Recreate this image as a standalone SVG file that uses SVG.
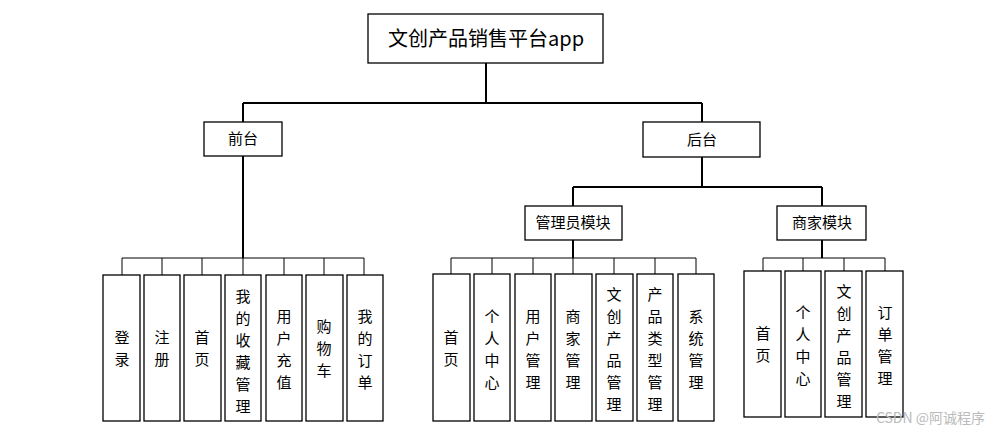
<svg xmlns="http://www.w3.org/2000/svg" width="1000" height="437" viewBox="0 0 1000 437">
<style>
.b{fill:#fff;stroke:#000;stroke-width:1.3}
.t{font-family:"Noto Sans CJK SC","Liberation Serif",serif;font-size:15px;fill:#000;text-anchor:middle}
.c{stroke:#000;fill:none}
</style>
<rect width="1000" height="437" fill="#fff"/>
<g id="connectors">
<path class="c" stroke-width="2" d="M486 63V103M243 103H702M243 103V122M702 103V122M243 156V258M702 157V187M573 187H822M573 187V206M822 187V206M573 240V258M822 240V258"/>
<path class="c" stroke-width="1" d="M122 258H364M122 258V275M162 258V275M202 258V275M243 258V275M284 258V275M324 258V275M364 258V275
M451 258H696M451 258V274M492 258V274M533 258V274M573 258V274M614 258V274M655 258V274M696 258V274
M763 258H885M763 258V271M803 258V271M844 258V271M885 258V271"/>
</g>
<g id="root"><rect class="b" x="368" y="14" width="235" height="49"/><text class="t" x="486" y="46" style="font-size:20px">文创产品销售平台app</text></g>
<g id="qiantai"><rect class="b" x="204" y="122" width="78" height="34"/><text class="t" x="243" y="144">前台</text></g>
<g id="houtai"><rect class="b" x="643" y="122" width="117" height="35"/><text class="t" x="702" y="145">后台</text></g>
<g id="admin"><rect class="b" x="525" y="206" width="97" height="34"/><text class="t" x="573" y="228">管理员模块</text></g>
<g id="shop"><rect class="b" x="777" y="206" width="89" height="34"/><text class="t" x="822" y="228">商家模块</text></g>
<g id="n1"><rect class="b" x="103" y="275" width="37" height="146"/><text class="t" x="122" y="343">登</text><text class="t" x="122" y="365">录</text></g>
<g id="n2"><rect class="b" x="144" y="275" width="36" height="146"/><text class="t" x="162" y="343">注</text><text class="t" x="162" y="365">册</text></g>
<g id="n3"><rect class="b" x="184" y="275" width="37" height="146"/><text class="t" x="202" y="343">首</text><text class="t" x="202" y="365">页</text></g>
<g id="n4"><rect class="b" x="225" y="275" width="36" height="146"/><text class="t" x="243" y="302">我</text><text class="t" x="243" y="324">的</text><text class="t" x="243" y="346">收</text><text class="t" x="243" y="368">藏</text><text class="t" x="243" y="390">管</text><text class="t" x="243" y="412">理</text></g>
<g id="n5"><rect class="b" x="266" y="275" width="36" height="146"/><text class="t" x="284" y="322">用</text><text class="t" x="284" y="344">户</text><text class="t" x="284" y="366">充</text><text class="t" x="284" y="388">值</text></g>
<g id="n6"><rect class="b" x="306" y="275" width="37" height="146"/><text class="t" x="324" y="332">购</text><text class="t" x="324" y="354">物</text><text class="t" x="324" y="376">车</text></g>
<g id="n7"><rect class="b" x="347" y="275" width="36" height="146"/><text class="t" x="365" y="322">我</text><text class="t" x="365" y="344">的</text><text class="t" x="365" y="366">订</text><text class="t" x="365" y="388">单</text></g>
<g id="a1"><rect class="b" x="433" y="274" width="37" height="147"/><text class="t" x="451" y="343">首</text><text class="t" x="451" y="365">页</text></g>
<g id="a2"><rect class="b" x="474" y="274" width="36" height="147"/><text class="t" x="492" y="322">个</text><text class="t" x="492" y="344">人</text><text class="t" x="492" y="366">中</text><text class="t" x="492" y="388">心</text></g>
<g id="a3"><rect class="b" x="515" y="274" width="36" height="147"/><text class="t" x="533" y="322">用</text><text class="t" x="533" y="344">户</text><text class="t" x="533" y="366">管</text><text class="t" x="533" y="388">理</text></g>
<g id="a4"><rect class="b" x="555" y="274" width="37" height="147"/><text class="t" x="573" y="322">商</text><text class="t" x="573" y="344">家</text><text class="t" x="573" y="366">管</text><text class="t" x="573" y="388">理</text></g>
<g id="a5"><rect class="b" x="596" y="274" width="37" height="147"/><text class="t" x="614" y="300">文</text><text class="t" x="614" y="322">创</text><text class="t" x="614" y="344">产</text><text class="t" x="614" y="366">品</text><text class="t" x="614" y="388">管</text><text class="t" x="614" y="410">理</text></g>
<g id="a6"><rect class="b" x="637" y="274" width="36" height="147"/><text class="t" x="655" y="300">产</text><text class="t" x="655" y="322">品</text><text class="t" x="655" y="344">类</text><text class="t" x="655" y="366">型</text><text class="t" x="655" y="388">管</text><text class="t" x="655" y="410">理</text></g>
<g id="a7"><rect class="b" x="678" y="274" width="36" height="147"/><text class="t" x="696" y="322">系</text><text class="t" x="696" y="344">统</text><text class="t" x="696" y="366">管</text><text class="t" x="696" y="388">理</text></g>
<g id="s1"><rect class="b" x="744" y="271" width="37" height="146"/><text class="t" x="763" y="339">首</text><text class="t" x="763" y="361">页</text></g>
<g id="s2"><rect class="b" x="785" y="271" width="36" height="146"/><text class="t" x="803" y="318">个</text><text class="t" x="803" y="340">人</text><text class="t" x="803" y="362">中</text><text class="t" x="803" y="384">心</text></g>
<g id="s3"><rect class="b" x="825" y="271" width="37" height="146"/><text class="t" x="844" y="297">文</text><text class="t" x="844" y="319">创</text><text class="t" x="844" y="341">产</text><text class="t" x="844" y="363">品</text><text class="t" x="844" y="385">管</text><text class="t" x="844" y="407">理</text></g>
<g id="s4"><rect class="b" x="866" y="271" width="37" height="146"/><text class="t" x="885" y="318">订</text><text class="t" x="885" y="340">单</text><text class="t" x="885" y="362">管</text><text class="t" x="885" y="384">理</text></g>
<text x="985" y="423" style="font-family:'Noto Sans CJK SC','Liberation Sans',sans-serif;font-size:14px;fill:#bbb;text-anchor:end">CSDN @阿诚程序</text>
</svg>
